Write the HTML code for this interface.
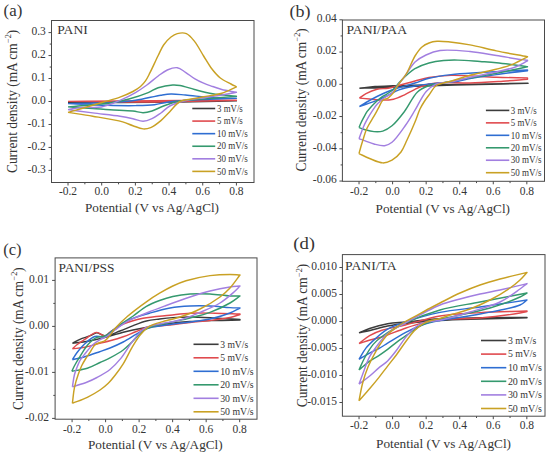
<!DOCTYPE html>
<html><head><meta charset="utf-8"><style>
html,body{margin:0;padding:0;background:#fff;overflow:hidden;width:550px;height:454px;}
svg{display:block;}
text{font-family:"Liberation Serif",serif;fill:#353535;}
</style></head><body>
<svg width="550" height="454" viewBox="0 0 550 454">
<rect width="550" height="454" fill="#fff"/>
<rect x="51.5" y="20.5" width="202.5" height="162.0" fill="none" stroke="#4a4a4a" stroke-width="1"/>
<line x1="68.02000000000001" y1="182.5" x2="68.02000000000001" y2="185.5" stroke="#4a4a4a" stroke-width="1"/>
<line x1="101.7" y1="182.5" x2="101.7" y2="185.5" stroke="#4a4a4a" stroke-width="1"/>
<line x1="135.38" y1="182.5" x2="135.38" y2="185.5" stroke="#4a4a4a" stroke-width="1"/>
<line x1="169.06" y1="182.5" x2="169.06" y2="185.5" stroke="#4a4a4a" stroke-width="1"/>
<line x1="202.74" y1="182.5" x2="202.74" y2="185.5" stroke="#4a4a4a" stroke-width="1"/>
<line x1="236.42000000000002" y1="182.5" x2="236.42000000000002" y2="185.5" stroke="#4a4a4a" stroke-width="1"/>
<line x1="84.86" y1="182.5" x2="84.86" y2="184.3" stroke="#4a4a4a" stroke-width="1"/>
<line x1="118.54" y1="182.5" x2="118.54" y2="184.3" stroke="#4a4a4a" stroke-width="1"/>
<line x1="152.22" y1="182.5" x2="152.22" y2="184.3" stroke="#4a4a4a" stroke-width="1"/>
<line x1="185.9" y1="182.5" x2="185.9" y2="184.3" stroke="#4a4a4a" stroke-width="1"/>
<line x1="219.57999999999998" y1="182.5" x2="219.57999999999998" y2="184.3" stroke="#4a4a4a" stroke-width="1"/>
<line x1="51.5" y1="32.59" x2="48.5" y2="32.59" stroke="#4a4a4a" stroke-width="1"/>
<line x1="51.5" y1="55.56" x2="48.5" y2="55.56" stroke="#4a4a4a" stroke-width="1"/>
<line x1="51.5" y1="78.53" x2="48.5" y2="78.53" stroke="#4a4a4a" stroke-width="1"/>
<line x1="51.5" y1="101.5" x2="48.5" y2="101.5" stroke="#4a4a4a" stroke-width="1"/>
<line x1="51.5" y1="124.47" x2="48.5" y2="124.47" stroke="#4a4a4a" stroke-width="1"/>
<line x1="51.5" y1="147.44" x2="48.5" y2="147.44" stroke="#4a4a4a" stroke-width="1"/>
<line x1="51.5" y1="170.41" x2="48.5" y2="170.41" stroke="#4a4a4a" stroke-width="1"/>
<line x1="51.5" y1="44.075" x2="49.7" y2="44.075" stroke="#4a4a4a" stroke-width="1"/>
<line x1="51.5" y1="67.045" x2="49.7" y2="67.045" stroke="#4a4a4a" stroke-width="1"/>
<line x1="51.5" y1="90.015" x2="49.7" y2="90.015" stroke="#4a4a4a" stroke-width="1"/>
<line x1="51.5" y1="112.985" x2="49.7" y2="112.985" stroke="#4a4a4a" stroke-width="1"/>
<line x1="51.5" y1="135.95499999999998" x2="49.7" y2="135.95499999999998" stroke="#4a4a4a" stroke-width="1"/>
<line x1="51.5" y1="158.925" x2="49.7" y2="158.925" stroke="#4a4a4a" stroke-width="1"/>
<text x="68.02000000000001" y="195.3" font-size="11.5" text-anchor="middle" >-0.2</text>
<text x="101.7" y="195.3" font-size="11.5" text-anchor="middle" >0.0</text>
<text x="135.38" y="195.3" font-size="11.5" text-anchor="middle" >0.2</text>
<text x="169.06" y="195.3" font-size="11.5" text-anchor="middle" >0.4</text>
<text x="202.74" y="195.3" font-size="11.5" text-anchor="middle" >0.6</text>
<text x="236.42000000000002" y="195.3" font-size="11.5" text-anchor="middle" >0.8</text>
<text x="45.8" y="34.99" font-size="11.5" text-anchor="end" >0.3</text>
<text x="45.8" y="57.96" font-size="11.5" text-anchor="end" >0.2</text>
<text x="45.8" y="80.93" font-size="11.5" text-anchor="end" >0.1</text>
<text x="45.8" y="103.9" font-size="11.5" text-anchor="end" >0.0</text>
<text x="45.8" y="126.87" font-size="11.5" text-anchor="end" >-0.1</text>
<text x="45.8" y="149.84" font-size="11.5" text-anchor="end" >-0.2</text>
<text x="45.8" y="172.81" font-size="11.5" text-anchor="end" >-0.3</text>
<text x="85" y="212" font-size="12.5" text-anchor="start" textLength="134" lengthAdjust="spacingAndGlyphs" >Potential (V vs Ag/AgCl)</text>
<g transform="translate(16.6,173) rotate(-90)"><text x="0" y="0" font-size="14" textLength="129.7" lengthAdjust="spacingAndGlyphs">Current density (mA cm</text><text x="130.0" y="-5.4" font-size="8.3">−2</text><text x="138.5" y="0" font-size="14">)</text></g>
<text x="3.6" y="16.3" font-size="17.5" text-anchor="start" textLength="18.7" lengthAdjust="spacingAndGlyphs" >(a)</text>
<text x="57.3" y="33.9" font-size="12.5" text-anchor="start" textLength="30.4" lengthAdjust="spacingAndGlyphs" >PANI</text>
<line x1="192.3" y1="108.5" x2="215.2" y2="108.5" stroke="#3c3c3c" stroke-width="1.6"/>
<text x="217" y="111.7" font-size="9.5" text-anchor="start" textLength="25.8" lengthAdjust="spacingAndGlyphs" >3 mV/s</text>
<line x1="192.3" y1="121.08" x2="215.2" y2="121.08" stroke="#e04a4e" stroke-width="1.6"/>
<text x="217" y="124.28" font-size="9.5" text-anchor="start" textLength="25.8" lengthAdjust="spacingAndGlyphs" >5 mV/s</text>
<line x1="192.3" y1="133.66" x2="215.2" y2="133.66" stroke="#2f6ed2" stroke-width="1.6"/>
<text x="217" y="136.85999999999999" font-size="9.5" text-anchor="start" textLength="30.8" lengthAdjust="spacingAndGlyphs" >10 mV/s</text>
<line x1="192.3" y1="146.24" x2="215.2" y2="146.24" stroke="#35996e" stroke-width="1.6"/>
<text x="217" y="149.44" font-size="9.5" text-anchor="start" textLength="30.8" lengthAdjust="spacingAndGlyphs" >20 mV/s</text>
<line x1="192.3" y1="158.82" x2="215.2" y2="158.82" stroke="#a27fe0" stroke-width="1.6"/>
<text x="217" y="162.01999999999998" font-size="9.5" text-anchor="start" textLength="30.8" lengthAdjust="spacingAndGlyphs" >30 mV/s</text>
<line x1="192.3" y1="171.4" x2="215.2" y2="171.4" stroke="#c9a124" stroke-width="1.6"/>
<text x="217" y="174.6" font-size="9.5" text-anchor="start" textLength="30.8" lengthAdjust="spacingAndGlyphs" >50 mV/s</text>
<path d="M68.00,102.20 C85.33,102.10 102.05,102.04 120.00,101.90 C139.28,101.75 160.31,101.47 180.00,101.30 C199.09,101.14 217.60,101.03 236.40,100.90 L236.40,100.90 C217.60,101.27 199.09,101.72 180.00,102.00 C160.31,102.29 139.28,102.58 120.00,102.60 C102.05,102.62 85.33,102.33 68.00,102.20" fill="none" stroke="#3c3c3c" stroke-width="1.45" stroke-linejoin="round"/>
<path d="M68.00,101.40 C85.33,101.27 102.05,101.14 120.00,101.00 C139.28,100.85 160.31,100.63 180.00,100.50 C199.09,100.37 217.60,100.30 236.40,100.20 L236.40,100.20 C217.60,100.67 199.09,101.30 180.00,101.60 C160.31,101.91 139.28,102.05 120.00,102.00 C102.05,101.96 85.33,101.60 68.00,101.40" fill="none" stroke="#e04a4e" stroke-width="1.45" stroke-linejoin="round"/>
<path d="M68.00,103.60 C75.33,103.47 82.84,103.37 90.00,103.20 C96.83,103.04 102.94,103.02 110.00,102.60 C117.99,102.12 127.04,101.53 135.50,100.30 C144.01,99.07 154.34,96.25 160.90,95.20 C165.01,94.54 167.33,94.09 171.00,94.00 C175.39,93.89 179.92,94.53 185.50,95.00 C193.16,95.64 203.94,97.17 212.70,97.70 C220.86,98.19 228.50,98.03 236.40,98.20 L236.40,98.20 C227.60,98.57 218.68,98.91 210.00,99.30 C201.55,99.68 192.61,99.95 185.00,100.50 C178.59,100.96 172.71,101.41 167.30,102.20 C162.67,102.87 159.21,104.13 154.50,104.70 C148.81,105.39 142.48,105.47 135.50,105.60 C126.94,105.76 117.16,105.58 106.90,105.30 C94.93,104.98 80.97,104.17 68.00,103.60" fill="none" stroke="#2f6ed2" stroke-width="1.45" stroke-linejoin="round"/>
<path d="M68.00,106.90 C74.43,106.37 80.61,105.92 87.30,105.30 C94.56,104.63 102.80,104.12 110.00,103.00 C116.64,101.97 122.70,100.71 129.00,99.00 C135.43,97.26 142.89,94.77 148.20,92.60 C152.14,90.99 154.46,88.94 158.20,87.70 C162.50,86.28 168.68,85.23 172.70,85.00 C175.53,84.84 177.18,85.02 180.00,85.50 C184.04,86.19 189.38,88.20 194.50,89.50 C200.21,90.95 206.20,92.60 212.70,93.70 C220.05,94.95 228.50,95.43 236.40,96.30 L236.40,96.30 C229.27,96.87 222.01,97.44 215.00,98.00 C208.22,98.54 201.19,99.06 195.00,99.60 C189.64,100.06 185.07,100.01 180.00,101.00 C174.58,102.06 168.46,104.18 163.50,106.00 C159.27,107.55 155.65,109.87 152.00,111.00 C148.90,111.96 146.17,112.66 143.10,112.70 C139.82,112.74 136.99,111.45 132.90,111.00 C126.80,110.33 117.10,110.25 110.00,109.80 C103.83,109.41 98.98,108.94 92.70,108.50 C85.20,107.98 76.23,107.43 68.00,106.90" fill="none" stroke="#35996e" stroke-width="1.45" stroke-linejoin="round"/>
<path d="M68.00,109.60 C72.60,108.87 76.78,107.85 81.80,107.40 C87.75,106.87 95.04,108.16 101.40,107.00 C107.78,105.83 114.16,102.90 120.00,100.40 C125.48,98.06 130.80,95.33 135.50,92.60 C139.67,90.17 143.17,87.72 146.90,85.00 C150.74,82.20 154.58,78.63 158.20,76.00 C161.34,73.72 164.06,71.39 167.30,70.00 C170.44,68.66 174.21,67.26 177.30,67.70 C180.26,68.12 182.75,70.57 185.50,72.30 C188.48,74.17 191.42,76.76 194.50,78.60 C197.46,80.37 200.53,81.87 203.60,83.20 C206.59,84.49 209.66,85.45 212.70,86.50 C215.73,87.55 218.38,88.61 221.80,89.50 C226.06,90.61 231.53,91.37 236.40,92.30 L236.40,92.30 C231.53,93.20 226.94,94.14 221.80,95.00 C216.08,95.95 209.80,96.73 203.60,97.70 C197.11,98.72 189.68,99.44 183.70,101.00 C178.59,102.33 173.77,103.80 169.80,106.00 C166.32,107.93 163.92,110.85 160.90,113.00 C157.98,115.07 155.07,117.30 152.00,118.70 C149.12,120.01 146.18,121.25 143.10,121.30 C139.82,121.36 136.51,119.51 132.90,118.70 C128.86,117.80 125.11,117.00 120.00,116.20 C112.60,115.04 101.57,114.03 92.70,112.90 C84.26,111.83 76.23,110.70 68.00,109.60" fill="none" stroke="#a27fe0" stroke-width="1.45" stroke-linejoin="round"/>
<path d="M68.00,112.40 C72.60,111.10 76.68,109.99 81.80,108.50 C88.25,106.63 96.85,104.01 103.60,102.00 C109.46,100.25 114.91,98.96 120.00,97.10 C124.61,95.42 129.24,93.48 132.90,91.50 C135.85,89.91 138.33,88.37 140.50,86.50 C142.47,84.80 143.99,83.04 145.50,80.90 C147.19,78.51 148.33,75.96 150.00,72.70 C152.38,68.04 155.72,60.51 158.20,55.50 C160.15,51.55 161.41,48.13 163.60,45.00 C165.71,41.99 168.46,38.97 171.00,37.00 C173.05,35.41 174.92,34.20 177.30,33.60 C179.98,32.92 183.65,32.49 186.40,33.60 C189.45,34.83 191.91,38.20 194.50,41.40 C197.70,45.35 200.72,51.41 203.60,56.00 C206.19,60.12 208.24,64.06 211.00,67.70 C213.72,71.29 216.61,74.96 220.00,77.70 C223.29,80.36 227.96,82.34 231.00,84.00 C233.10,85.15 234.60,85.87 236.40,86.80 L236.40,86.80 C231.53,88.93 227.03,91.56 221.80,93.20 C216.16,94.97 209.23,95.73 203.60,96.80 C198.74,97.73 194.18,98.46 190.00,99.30 C186.40,100.03 183.12,99.79 180.00,101.50 C176.30,103.53 173.08,108.42 169.80,111.70 C166.73,114.77 164.10,117.94 160.90,120.60 C157.73,123.24 153.99,126.26 150.70,127.60 C148.10,128.65 145.80,129.08 143.10,128.90 C139.93,128.69 136.28,126.86 132.90,125.70 C129.48,124.53 127.06,123.12 122.70,121.90 C115.40,119.86 102.23,117.84 92.70,116.20 C84.08,114.72 76.23,113.67 68.00,112.40" fill="none" stroke="#c9a124" stroke-width="1.45" stroke-linejoin="round"/>
<rect x="342.4" y="20.0" width="202.10000000000002" height="161.3" fill="none" stroke="#4a4a4a" stroke-width="1"/>
<line x1="359.04" y1="181.3" x2="359.04" y2="184.3" stroke="#4a4a4a" stroke-width="1"/>
<line x1="392.6" y1="181.3" x2="392.6" y2="184.3" stroke="#4a4a4a" stroke-width="1"/>
<line x1="426.16" y1="181.3" x2="426.16" y2="184.3" stroke="#4a4a4a" stroke-width="1"/>
<line x1="459.72" y1="181.3" x2="459.72" y2="184.3" stroke="#4a4a4a" stroke-width="1"/>
<line x1="493.28000000000003" y1="181.3" x2="493.28000000000003" y2="184.3" stroke="#4a4a4a" stroke-width="1"/>
<line x1="526.84" y1="181.3" x2="526.84" y2="184.3" stroke="#4a4a4a" stroke-width="1"/>
<line x1="375.82000000000005" y1="181.3" x2="375.82000000000005" y2="183.10000000000002" stroke="#4a4a4a" stroke-width="1"/>
<line x1="409.38" y1="181.3" x2="409.38" y2="183.10000000000002" stroke="#4a4a4a" stroke-width="1"/>
<line x1="442.94000000000005" y1="181.3" x2="442.94000000000005" y2="183.10000000000002" stroke="#4a4a4a" stroke-width="1"/>
<line x1="476.5" y1="181.3" x2="476.5" y2="183.10000000000002" stroke="#4a4a4a" stroke-width="1"/>
<line x1="510.06" y1="181.3" x2="510.06" y2="183.10000000000002" stroke="#4a4a4a" stroke-width="1"/>
<line x1="342.4" y1="19.799999999999997" x2="339.4" y2="19.799999999999997" stroke="#4a4a4a" stroke-width="1"/>
<line x1="342.4" y1="52.05" x2="339.4" y2="52.05" stroke="#4a4a4a" stroke-width="1"/>
<line x1="342.4" y1="84.3" x2="339.4" y2="84.3" stroke="#4a4a4a" stroke-width="1"/>
<line x1="342.4" y1="116.55" x2="339.4" y2="116.55" stroke="#4a4a4a" stroke-width="1"/>
<line x1="342.4" y1="148.8" x2="339.4" y2="148.8" stroke="#4a4a4a" stroke-width="1"/>
<line x1="342.4" y1="181.05" x2="339.4" y2="181.05" stroke="#4a4a4a" stroke-width="1"/>
<line x1="342.4" y1="35.925" x2="340.59999999999997" y2="35.925" stroke="#4a4a4a" stroke-width="1"/>
<line x1="342.4" y1="68.175" x2="340.59999999999997" y2="68.175" stroke="#4a4a4a" stroke-width="1"/>
<line x1="342.4" y1="100.425" x2="340.59999999999997" y2="100.425" stroke="#4a4a4a" stroke-width="1"/>
<line x1="342.4" y1="132.675" x2="340.59999999999997" y2="132.675" stroke="#4a4a4a" stroke-width="1"/>
<line x1="342.4" y1="164.925" x2="340.59999999999997" y2="164.925" stroke="#4a4a4a" stroke-width="1"/>
<text x="359.04" y="194.5" font-size="11.5" text-anchor="middle" >-0.2</text>
<text x="392.6" y="194.5" font-size="11.5" text-anchor="middle" >0.0</text>
<text x="426.16" y="194.5" font-size="11.5" text-anchor="middle" >0.2</text>
<text x="459.72" y="194.5" font-size="11.5" text-anchor="middle" >0.4</text>
<text x="493.28000000000003" y="194.5" font-size="11.5" text-anchor="middle" >0.6</text>
<text x="526.84" y="194.5" font-size="11.5" text-anchor="middle" >0.8</text>
<text x="336.8" y="22.199999999999996" font-size="11.5" text-anchor="end" >0.04</text>
<text x="336.8" y="54.449999999999996" font-size="11.5" text-anchor="end" >0.02</text>
<text x="336.8" y="86.7" font-size="11.5" text-anchor="end" >0.00</text>
<text x="336.8" y="118.95" font-size="11.5" text-anchor="end" >-0.02</text>
<text x="336.8" y="151.20000000000002" font-size="11.5" text-anchor="end" >-0.04</text>
<text x="336.8" y="183.45000000000002" font-size="11.5" text-anchor="end" >-0.06</text>
<text x="375.6" y="213" font-size="12.5" text-anchor="start" textLength="134.4" lengthAdjust="spacingAndGlyphs" >Potential (V vs Ag/AgCl)</text>
<g transform="translate(305.5,171.5) rotate(-90)"><text x="0" y="0" font-size="14" textLength="129.7" lengthAdjust="spacingAndGlyphs">Current density (mA cm</text><text x="130.0" y="-5.4" font-size="8.3">−2</text><text x="138.5" y="0" font-size="14">)</text></g>
<text x="289.5" y="17.2" font-size="17.5" text-anchor="start" textLength="21" lengthAdjust="spacingAndGlyphs" >(b)</text>
<text x="346.5" y="33.9" font-size="12.5" text-anchor="start" textLength="60.5" lengthAdjust="spacingAndGlyphs" >PANI/PAA</text>
<line x1="485.9" y1="110.4" x2="509.3" y2="110.4" stroke="#3c3c3c" stroke-width="1.6"/>
<text x="510.8" y="113.60000000000001" font-size="9.5" text-anchor="start" textLength="25.8" lengthAdjust="spacingAndGlyphs" >3 mV/s</text>
<line x1="485.9" y1="122.86000000000001" x2="509.3" y2="122.86000000000001" stroke="#e04a4e" stroke-width="1.6"/>
<text x="510.8" y="126.06000000000002" font-size="9.5" text-anchor="start" textLength="25.8" lengthAdjust="spacingAndGlyphs" >5 mV/s</text>
<line x1="485.9" y1="135.32" x2="509.3" y2="135.32" stroke="#2f6ed2" stroke-width="1.6"/>
<text x="510.8" y="138.51999999999998" font-size="9.5" text-anchor="start" textLength="30.8" lengthAdjust="spacingAndGlyphs" >10 mV/s</text>
<line x1="485.9" y1="147.78" x2="509.3" y2="147.78" stroke="#35996e" stroke-width="1.6"/>
<text x="510.8" y="150.98" font-size="9.5" text-anchor="start" textLength="30.8" lengthAdjust="spacingAndGlyphs" >20 mV/s</text>
<line x1="485.9" y1="160.24" x2="509.3" y2="160.24" stroke="#a27fe0" stroke-width="1.6"/>
<text x="510.8" y="163.44" font-size="9.5" text-anchor="start" textLength="30.8" lengthAdjust="spacingAndGlyphs" >30 mV/s</text>
<line x1="485.9" y1="172.70000000000002" x2="509.3" y2="172.70000000000002" stroke="#c9a124" stroke-width="1.6"/>
<text x="510.8" y="175.9" font-size="9.5" text-anchor="start" textLength="30.8" lengthAdjust="spacingAndGlyphs" >50 mV/s</text>
<path d="M359.40,88.20 C364.60,87.63 369.61,86.90 375.00,86.50 C380.78,86.07 386.70,85.99 393.00,85.80 C399.96,85.59 406.58,85.48 415.00,85.30 C426.36,85.06 439.68,84.79 455.00,84.50 C475.70,84.11 503.67,83.63 528.00,83.20 L528.00,83.40 C503.67,83.93 475.70,84.46 455.00,85.00 C439.68,85.40 426.35,85.77 415.00,86.20 C406.58,86.52 399.97,86.89 393.00,87.20 C386.70,87.48 380.79,87.83 375.00,88.00 C369.62,88.15 364.60,88.13 359.40,88.20" fill="none" stroke="#3c3c3c" stroke-width="1.45" stroke-linejoin="round"/>
<path d="M359.40,98.10 C361.60,96.63 363.44,95.05 366.00,93.70 C369.13,92.05 373.27,90.21 377.00,89.30 C380.61,88.42 384.36,88.83 388.00,88.20 C391.69,87.57 395.00,86.55 399.00,85.50 C403.84,84.22 409.83,82.37 415.00,81.00 C419.81,79.72 423.77,78.40 429.00,77.50 C435.47,76.39 442.34,75.63 451.00,75.40 C463.41,75.07 482.69,76.88 496.40,77.30 C507.74,77.65 517.13,77.70 527.50,77.90 L527.50,79.30 C519.33,79.93 511.78,80.62 503.00,81.20 C492.82,81.87 480.39,82.80 470.00,83.00 C460.71,83.18 451.10,82.30 443.60,82.60 C438.01,82.82 433.74,82.90 429.00,84.00 C424.21,85.12 419.27,87.37 415.00,89.30 C411.22,91.01 408.17,93.15 404.60,94.80 C401.00,96.46 397.26,98.32 393.50,99.20 C389.89,100.04 386.31,100.11 382.50,100.10 C378.37,100.09 373.65,99.35 369.60,99.00 C366.00,98.69 362.80,98.40 359.40,98.10" fill="none" stroke="#e04a4e" stroke-width="1.45" stroke-linejoin="round"/>
<path d="M359.40,106.50 C361.60,105.17 363.50,103.94 366.00,102.50 C369.18,100.67 373.30,98.35 377.00,96.50 C380.63,94.69 384.30,92.98 388.00,91.50 C391.63,90.05 394.97,88.99 399.00,87.70 C403.82,86.16 409.86,84.62 415.00,83.00 C419.84,81.48 423.75,79.61 429.00,78.30 C435.45,76.68 443.14,75.54 451.00,74.60 C459.98,73.52 469.14,73.18 480.00,72.50 C493.89,71.63 511.67,70.83 527.50,70.00 L527.50,70.70 C517.13,72.00 506.33,73.22 496.40,74.60 C487.23,75.87 477.07,77.30 470.00,78.60 C465.20,79.48 462.90,80.44 458.00,81.20 C450.46,82.38 436.92,83.05 429.00,84.00 C423.48,84.66 419.80,85.07 415.00,86.00 C409.82,87.00 403.75,88.16 399.00,89.90 C394.90,91.40 391.69,93.66 388.00,95.40 C384.35,97.12 380.70,98.82 377.00,100.30 C373.36,101.75 369.20,103.07 366.00,104.20 C363.52,105.07 361.60,105.73 359.40,106.50" fill="none" stroke="#2f6ed2" stroke-width="1.45" stroke-linejoin="round"/>
<path d="M359.00,127.60 C359.60,126.13 360.10,124.72 360.80,123.20 C361.58,121.50 362.52,119.73 363.50,117.90 C364.57,115.90 365.67,113.62 367.00,111.70 C368.31,109.82 369.83,108.21 371.40,106.50 C373.05,104.71 374.89,102.85 376.70,101.20 C378.43,99.62 380.43,97.85 382.00,96.80 C383.10,96.06 383.77,95.95 385.00,95.20 C387.14,93.89 391.10,91.50 393.50,89.30 C395.69,87.29 396.95,84.93 399.00,82.70 C401.32,80.18 404.15,77.37 406.80,75.00 C409.32,72.75 411.37,70.63 414.50,68.80 C418.44,66.50 424.08,64.39 429.00,63.00 C433.79,61.65 438.73,60.98 443.60,60.50 C448.40,60.02 452.70,60.01 458.00,60.10 C464.56,60.22 473.21,61.04 480.00,61.50 C485.87,61.90 490.29,62.10 496.40,62.70 C504.17,63.47 517.58,65.29 522.80,66.00 C525.01,66.30 525.93,66.47 527.50,66.70 L527.50,66.70 C523.67,67.57 520.35,68.37 516.00,69.30 C510.34,70.52 503.43,71.97 496.40,73.30 C488.26,74.84 478.80,76.35 470.00,77.90 C461.20,79.45 451.10,81.19 443.60,82.60 C438.01,83.65 433.46,83.85 429.00,85.50 C424.80,87.06 421.08,88.68 417.50,92.00 C412.75,96.40 409.07,105.45 404.60,111.30 C400.54,116.62 396.16,122.38 392.00,125.80 C388.91,128.35 385.95,130.16 382.80,131.10 C379.93,131.95 376.92,131.81 374.00,131.60 C371.05,131.39 367.85,130.54 365.20,129.80 C362.93,129.17 361.07,128.33 359.00,127.60" fill="none" stroke="#35996e" stroke-width="1.45" stroke-linejoin="round"/>
<path d="M359.00,138.70 C359.60,137.07 360.13,135.58 360.80,133.80 C361.60,131.67 362.48,129.12 363.50,126.80 C364.54,124.42 365.65,122.16 367.00,119.70 C368.53,116.89 370.48,113.64 372.30,110.90 C373.99,108.37 375.54,105.95 377.50,103.80 C379.45,101.66 381.62,99.81 384.00,98.00 C386.55,96.06 389.94,94.89 392.40,92.60 C394.98,90.20 396.84,86.64 399.00,83.80 C401.04,81.12 402.78,79.00 405.00,76.00 C407.94,72.03 411.20,65.60 415.00,62.00 C418.31,58.86 421.98,56.89 426.00,55.00 C430.27,53.00 434.37,51.29 440.00,50.50 C448.04,49.38 460.34,50.61 470.00,51.50 C479.11,52.34 487.83,54.15 496.40,55.50 C504.54,56.78 514.54,58.59 520.20,59.40 C523.33,59.85 525.07,60.00 527.50,60.30 L527.50,60.80 C523.67,62.77 520.45,64.98 516.00,66.70 C510.43,68.86 503.45,70.34 496.40,72.00 C488.28,73.91 478.06,75.52 470.00,77.30 C463.13,78.82 456.94,80.76 451.00,81.90 C445.84,82.89 440.65,82.28 436.40,84.00 C432.47,85.59 429.36,87.95 426.20,91.40 C422.04,95.95 418.59,104.33 415.00,110.20 C411.79,115.45 409.26,119.98 405.70,125.00 C401.71,130.63 396.24,138.84 392.00,142.20 C389.41,144.25 387.36,145.31 384.60,145.70 C381.44,146.15 377.33,144.85 374.00,144.00 C370.89,143.21 367.88,141.85 365.20,140.90 C362.95,140.11 361.07,139.43 359.00,138.70" fill="none" stroke="#a27fe0" stroke-width="1.45" stroke-linejoin="round"/>
<path d="M359.00,153.60 C359.60,151.40 360.12,149.35 360.80,147.00 C361.59,144.27 362.59,141.05 363.50,138.20 C364.36,135.49 365.15,132.64 366.10,130.30 C366.90,128.33 367.63,126.97 368.70,125.00 C370.11,122.39 372.34,118.99 374.00,116.10 C375.56,113.40 376.93,110.83 378.40,108.20 C379.87,105.57 380.93,101.98 382.80,100.30 C384.28,98.97 386.35,99.21 388.00,98.10 C389.94,96.79 391.78,94.76 393.50,92.60 C395.49,90.10 396.95,86.85 399.00,83.80 C401.32,80.35 404.34,77.13 406.80,73.00 C409.73,68.08 412.12,60.65 415.00,56.00 C417.24,52.39 419.43,49.23 422.00,47.00 C424.16,45.12 426.51,43.95 429.00,43.00 C431.51,42.04 433.99,41.53 437.00,41.30 C440.79,41.00 445.21,41.53 450.00,42.00 C455.96,42.59 462.90,43.58 470.00,44.90 C478.22,46.43 487.22,48.99 496.40,50.90 C506.32,52.97 517.13,54.83 527.50,56.80 L527.50,56.80 C521.53,59.67 515.83,63.09 509.60,65.40 C503.27,67.74 496.41,69.05 489.80,70.70 C483.21,72.35 476.50,73.54 470.00,75.30 C463.57,77.04 456.92,79.41 451.00,81.20 C445.82,82.77 440.16,82.94 436.40,85.50 C433.06,87.78 431.20,92.05 429.00,95.00 C427.14,97.49 425.52,99.63 424.00,102.00 C422.53,104.30 421.31,106.25 420.00,109.00 C418.28,112.61 416.93,117.34 415.00,122.00 C412.71,127.54 409.53,134.63 407.00,140.00 C404.91,144.43 403.59,148.58 401.00,152.00 C398.53,155.26 395.24,158.38 392.00,160.20 C389.12,161.82 386.13,162.96 382.80,162.90 C378.79,162.83 373.72,160.13 369.60,158.50 C365.83,157.01 362.53,155.23 359.00,153.60" fill="none" stroke="#c9a124" stroke-width="1.45" stroke-linejoin="round"/>
<rect x="55.1" y="257.9" width="201.9" height="161.3" fill="none" stroke="#4a4a4a" stroke-width="1"/>
<line x1="72.07999999999998" y1="419.2" x2="72.07999999999998" y2="422.2" stroke="#4a4a4a" stroke-width="1"/>
<line x1="105.6" y1="419.2" x2="105.6" y2="422.2" stroke="#4a4a4a" stroke-width="1"/>
<line x1="139.12" y1="419.2" x2="139.12" y2="422.2" stroke="#4a4a4a" stroke-width="1"/>
<line x1="172.64" y1="419.2" x2="172.64" y2="422.2" stroke="#4a4a4a" stroke-width="1"/>
<line x1="206.15999999999997" y1="419.2" x2="206.15999999999997" y2="422.2" stroke="#4a4a4a" stroke-width="1"/>
<line x1="239.68" y1="419.2" x2="239.68" y2="422.2" stroke="#4a4a4a" stroke-width="1"/>
<line x1="88.83999999999999" y1="419.2" x2="88.83999999999999" y2="421.0" stroke="#4a4a4a" stroke-width="1"/>
<line x1="122.36" y1="419.2" x2="122.36" y2="421.0" stroke="#4a4a4a" stroke-width="1"/>
<line x1="155.88" y1="419.2" x2="155.88" y2="421.0" stroke="#4a4a4a" stroke-width="1"/>
<line x1="189.39999999999998" y1="419.2" x2="189.39999999999998" y2="421.0" stroke="#4a4a4a" stroke-width="1"/>
<line x1="222.92" y1="419.2" x2="222.92" y2="421.0" stroke="#4a4a4a" stroke-width="1"/>
<line x1="55.1" y1="280.4" x2="52.1" y2="280.4" stroke="#4a4a4a" stroke-width="1"/>
<line x1="55.1" y1="326.4" x2="52.1" y2="326.4" stroke="#4a4a4a" stroke-width="1"/>
<line x1="55.1" y1="372.4" x2="52.1" y2="372.4" stroke="#4a4a4a" stroke-width="1"/>
<line x1="55.1" y1="418.4" x2="52.1" y2="418.4" stroke="#4a4a4a" stroke-width="1"/>
<line x1="55.1" y1="303.4" x2="53.300000000000004" y2="303.4" stroke="#4a4a4a" stroke-width="1"/>
<line x1="55.1" y1="349.4" x2="53.300000000000004" y2="349.4" stroke="#4a4a4a" stroke-width="1"/>
<line x1="55.1" y1="395.4" x2="53.300000000000004" y2="395.4" stroke="#4a4a4a" stroke-width="1"/>
<text x="72.07999999999998" y="432.8" font-size="11.5" text-anchor="middle" >-0.2</text>
<text x="105.6" y="432.8" font-size="11.5" text-anchor="middle" >0.0</text>
<text x="139.12" y="432.8" font-size="11.5" text-anchor="middle" >0.2</text>
<text x="172.64" y="432.8" font-size="11.5" text-anchor="middle" >0.4</text>
<text x="206.15999999999997" y="432.8" font-size="11.5" text-anchor="middle" >0.6</text>
<text x="239.68" y="432.8" font-size="11.5" text-anchor="middle" >0.8</text>
<text x="49" y="282.79999999999995" font-size="11.5" text-anchor="end" >0.01</text>
<text x="49" y="328.79999999999995" font-size="11.5" text-anchor="end" >0.00</text>
<text x="49" y="374.79999999999995" font-size="11.5" text-anchor="end" >-0.01</text>
<text x="49" y="420.79999999999995" font-size="11.5" text-anchor="end" >-0.02</text>
<text x="88" y="449" font-size="12.5" text-anchor="start" textLength="134.7" lengthAdjust="spacingAndGlyphs" >Potential (V vs Ag/AgCl)</text>
<g transform="translate(22.6,410) rotate(-90)"><text x="0" y="0" font-size="14" textLength="129.2" lengthAdjust="spacingAndGlyphs">Current density (mA cm</text><text x="129.5" y="-5.4" font-size="8.3">−2</text><text x="138.0" y="0" font-size="14">)</text></g>
<text x="3.2" y="255.3" font-size="17.5" text-anchor="start" textLength="18.4" lengthAdjust="spacingAndGlyphs" >(c)</text>
<text x="58.5" y="272" font-size="12.5" text-anchor="start" textLength="56" lengthAdjust="spacingAndGlyphs" >PANI/PSS</text>
<line x1="193.5" y1="344.3" x2="218.6" y2="344.3" stroke="#3c3c3c" stroke-width="1.6"/>
<text x="220.2" y="347.5" font-size="10" text-anchor="start" textLength="28" lengthAdjust="spacingAndGlyphs" >3 mV/s</text>
<line x1="193.5" y1="357.8" x2="218.6" y2="357.8" stroke="#e04a4e" stroke-width="1.6"/>
<text x="220.2" y="361.0" font-size="10" text-anchor="start" textLength="28" lengthAdjust="spacingAndGlyphs" >5 mV/s</text>
<line x1="193.5" y1="371.3" x2="218.6" y2="371.3" stroke="#2f6ed2" stroke-width="1.6"/>
<text x="220.2" y="374.5" font-size="10" text-anchor="start" textLength="33.5" lengthAdjust="spacingAndGlyphs" >10 mV/s</text>
<line x1="193.5" y1="384.8" x2="218.6" y2="384.8" stroke="#35996e" stroke-width="1.6"/>
<text x="220.2" y="388.0" font-size="10" text-anchor="start" textLength="33.5" lengthAdjust="spacingAndGlyphs" >20 mV/s</text>
<line x1="193.5" y1="398.3" x2="218.6" y2="398.3" stroke="#a27fe0" stroke-width="1.6"/>
<text x="220.2" y="401.5" font-size="10" text-anchor="start" textLength="33.5" lengthAdjust="spacingAndGlyphs" >30 mV/s</text>
<line x1="193.5" y1="411.8" x2="218.6" y2="411.8" stroke="#c9a124" stroke-width="1.6"/>
<text x="220.2" y="415.0" font-size="10" text-anchor="start" textLength="33.5" lengthAdjust="spacingAndGlyphs" >50 mV/s</text>
<path d="M72.40,343.30 C74.90,341.97 77.18,340.49 79.90,339.30 C82.92,337.98 86.82,337.06 89.80,335.90 C92.33,334.92 94.30,332.97 96.70,332.90 C99.25,332.82 101.59,335.73 104.70,335.80 C108.97,335.89 115.12,332.76 120.00,331.00 C124.60,329.34 128.78,327.27 133.20,325.60 C137.58,323.94 141.95,322.10 146.40,321.00 C150.75,319.92 155.19,319.57 159.60,319.00 C163.99,318.43 168.10,317.93 172.80,317.60 C178.15,317.22 183.73,316.98 190.00,317.00 C197.56,317.02 206.67,317.58 215.00,318.00 C223.34,318.42 231.67,319.00 240.00,319.50 L240.00,320.00 C231.67,320.17 223.33,320.25 215.00,320.50 C206.67,320.75 197.86,320.95 190.00,321.50 C182.95,321.99 176.88,322.59 170.00,323.50 C162.59,324.48 154.72,325.87 147.00,327.30 C139.12,328.76 129.94,330.51 123.20,332.20 C118.13,333.47 114.48,334.90 110.00,336.10 C105.42,337.33 100.41,338.51 96.00,339.50 C92.07,340.38 88.64,341.17 84.80,341.80 C80.78,342.45 76.53,342.80 72.40,343.30" fill="none" stroke="#3c3c3c" stroke-width="1.45" stroke-linejoin="round"/>
<path d="M72.40,348.80 C73.90,347.47 75.14,346.18 76.90,344.80 C79.12,343.05 81.85,341.17 84.80,339.30 C88.32,337.06 93.08,332.60 96.70,332.40 C99.59,332.24 102.37,336.16 104.70,335.90 C106.72,335.67 107.79,333.46 110.00,332.00 C113.37,329.77 118.21,326.38 123.20,324.20 C129.00,321.67 135.82,319.77 143.00,318.30 C151.24,316.61 161.67,316.09 170.00,315.20 C177.16,314.43 182.95,313.55 190.00,313.20 C197.86,312.81 206.67,313.07 215.00,313.20 C223.33,313.33 231.67,313.73 240.00,314.00 L240.00,314.50 C236.67,315.50 233.94,316.62 230.00,317.50 C224.51,318.73 216.68,319.67 210.00,320.50 C203.34,321.33 196.66,321.75 190.00,322.50 C183.33,323.25 176.90,324.19 170.00,325.00 C162.60,325.86 153.13,326.04 147.00,327.50 C142.71,328.52 140.12,330.05 136.40,331.50 C132.23,333.12 127.63,335.24 123.20,336.80 C118.83,338.33 114.14,339.67 110.00,340.80 C106.37,341.79 103.44,342.34 99.70,343.30 C95.18,344.45 89.57,346.38 84.80,347.30 C80.51,348.13 76.53,348.30 72.40,348.80" fill="none" stroke="#e04a4e" stroke-width="1.45" stroke-linejoin="round"/>
<path d="M72.40,359.70 C73.90,357.37 75.08,355.10 76.90,352.70 C79.08,349.83 81.85,346.48 84.80,343.80 C87.81,341.07 91.28,337.65 94.80,336.50 C97.95,335.47 101.54,337.58 104.70,336.50 C108.32,335.26 111.16,331.13 115.00,328.50 C119.45,325.45 124.48,322.01 130.00,319.50 C136.05,316.75 143.30,314.92 150.00,313.00 C156.63,311.10 163.29,309.17 170.00,308.00 C176.62,306.85 183.33,306.33 190.00,306.00 C196.66,305.67 203.34,305.73 210.00,306.00 C216.67,306.27 224.47,307.27 230.00,307.60 C233.90,307.83 236.67,307.87 240.00,308.00 L240.00,308.00 C236.67,309.67 233.99,311.42 230.00,313.00 C224.55,315.16 216.72,317.50 210.00,319.00 C203.39,320.48 196.67,321.08 190.00,322.00 C183.34,322.92 176.98,323.43 170.00,324.50 C162.28,325.68 151.75,326.70 145.70,328.90 C141.71,330.35 139.76,332.25 136.40,334.20 C132.38,336.54 127.66,339.68 123.20,342.00 C118.86,344.26 114.16,346.31 110.00,348.00 C106.39,349.47 103.46,350.40 99.70,351.70 C95.20,353.26 89.57,355.33 84.80,356.70 C80.50,357.94 76.53,358.70 72.40,359.70" fill="none" stroke="#2f6ed2" stroke-width="1.45" stroke-linejoin="round"/>
<path d="M71.80,371.30 C72.83,369.20 73.69,367.22 74.90,365.00 C76.32,362.40 78.01,359.69 79.90,356.70 C82.20,353.07 84.82,348.12 87.80,344.80 C90.48,341.81 93.62,338.83 96.70,337.40 C99.28,336.20 101.77,337.24 104.70,336.00 C109.18,334.10 115.06,328.36 120.00,324.90 C124.53,321.73 128.83,319.06 133.20,316.00 C137.63,312.90 141.86,309.03 146.40,306.40 C150.67,303.93 155.15,302.16 159.60,300.50 C163.95,298.88 168.07,297.55 172.80,296.50 C178.11,295.32 184.03,294.43 190.00,294.00 C196.40,293.54 203.34,293.67 210.00,294.00 C216.67,294.33 224.47,295.72 230.00,296.00 C233.90,296.19 236.67,296.00 240.00,296.00 L240.00,296.00 C236.67,298.33 234.02,300.67 230.00,303.00 C224.58,306.14 216.77,309.88 210.00,312.40 C203.43,314.84 196.69,316.31 190.00,318.00 C183.35,319.68 176.69,320.93 170.00,322.50 C163.23,324.09 154.46,325.68 149.60,327.50 C146.71,328.58 145.31,329.21 143.00,330.90 C139.73,333.29 135.93,338.11 132.50,341.40 C129.34,344.44 126.72,347.36 123.20,350.00 C119.32,352.91 114.15,355.71 110.00,357.90 C106.49,359.75 103.54,360.89 100.00,362.50 C96.02,364.31 91.83,366.75 87.30,368.20 C82.47,369.74 76.97,370.27 71.80,371.30" fill="none" stroke="#35996e" stroke-width="1.45" stroke-linejoin="round"/>
<path d="M72.40,386.90 C73.10,382.77 73.54,378.21 74.50,374.50 C75.31,371.36 76.49,368.51 77.50,366.00 C78.33,363.95 78.91,362.35 80.00,360.50 C81.26,358.36 82.94,356.31 84.80,354.00 C87.08,351.16 90.09,347.28 92.80,344.80 C95.07,342.72 97.32,341.20 99.70,339.80 C101.96,338.46 104.35,337.95 106.70,336.50 C109.44,334.81 111.93,332.27 115.00,330.00 C118.67,327.29 122.53,324.07 127.30,321.40 C133.11,318.15 141.10,315.20 147.70,312.50 C153.81,310.00 159.08,308.07 165.50,305.70 C173.00,302.94 182.22,299.55 190.00,297.00 C196.97,294.72 203.29,292.67 210.00,291.00 C216.63,289.35 224.46,287.83 230.00,287.00 C233.89,286.42 236.67,286.33 240.00,286.00 L240.00,286.00 C238.00,288.00 236.50,289.78 234.00,292.00 C230.38,295.21 225.29,299.74 220.00,303.00 C214.11,306.63 206.72,309.55 200.00,312.40 C193.39,315.21 186.57,318.13 180.00,320.00 C173.92,321.73 167.44,322.38 162.00,323.50 C157.48,324.43 153.03,324.99 149.60,326.20 C146.99,327.12 145.28,327.75 143.00,329.50 C139.66,332.07 135.98,336.95 132.50,341.40 C128.51,346.50 124.66,353.66 120.60,358.60 C117.14,362.81 113.93,366.35 110.00,369.50 C106.06,372.65 101.08,375.31 97.00,377.50 C93.59,379.33 90.93,380.57 87.30,382.00 C82.91,383.73 77.37,385.27 72.40,386.90" fill="none" stroke="#a27fe0" stroke-width="1.45" stroke-linejoin="round"/>
<path d="M72.40,403.30 C73.10,397.97 73.46,392.30 74.50,387.30 C75.45,382.76 76.87,378.36 78.20,374.50 C79.33,371.21 80.49,368.22 81.80,365.50 C82.95,363.11 84.17,361.12 85.50,359.00 C86.84,356.86 88.33,354.91 89.80,352.70 C91.42,350.27 92.84,346.72 94.80,345.00 C96.35,343.64 98.29,343.22 100.00,342.50 C101.59,341.83 103.22,341.74 104.70,340.80 C106.45,339.69 108.00,337.77 109.60,335.90 C111.44,333.75 112.70,331.16 115.00,328.50 C118.16,324.86 122.62,320.56 127.30,316.50 C132.85,311.69 140.54,305.95 146.40,301.80 C151.13,298.44 155.15,295.86 159.60,293.20 C163.95,290.60 168.34,288.10 172.80,286.00 C177.14,283.95 180.87,282.26 186.00,280.70 C192.74,278.65 202.33,276.64 210.00,275.60 C216.93,274.66 224.48,274.40 230.00,274.40 C233.91,274.40 236.67,274.80 240.00,275.00 L240.00,275.00 C236.67,279.33 233.52,284.20 230.00,288.00 C226.82,291.44 224.08,293.98 220.00,297.00 C214.63,300.97 206.80,305.62 200.00,309.00 C193.46,312.24 185.57,315.11 180.00,317.00 C176.14,318.31 173.07,318.99 170.00,319.80 C167.41,320.49 165.54,320.78 162.80,321.60 C159.04,322.72 153.40,323.90 149.60,326.20 C145.99,328.38 143.18,331.52 140.40,334.80 C137.44,338.30 135.14,342.30 132.50,346.70 C129.41,351.84 126.33,358.88 123.20,363.90 C120.59,368.09 117.96,371.60 115.30,375.00 C112.89,378.08 110.61,380.96 108.00,383.50 C105.50,385.94 103.07,387.89 100.00,390.00 C96.34,392.51 91.78,395.12 87.30,397.30 C82.61,399.58 77.37,401.30 72.40,403.30" fill="none" stroke="#c9a124" stroke-width="1.45" stroke-linejoin="round"/>
<rect x="342.4" y="254.6" width="202.60000000000002" height="161.6" fill="none" stroke="#4a4a4a" stroke-width="1"/>
<line x1="359.04" y1="416.2" x2="359.04" y2="419.2" stroke="#4a4a4a" stroke-width="1"/>
<line x1="392.6" y1="416.2" x2="392.6" y2="419.2" stroke="#4a4a4a" stroke-width="1"/>
<line x1="426.16" y1="416.2" x2="426.16" y2="419.2" stroke="#4a4a4a" stroke-width="1"/>
<line x1="459.72" y1="416.2" x2="459.72" y2="419.2" stroke="#4a4a4a" stroke-width="1"/>
<line x1="493.28000000000003" y1="416.2" x2="493.28000000000003" y2="419.2" stroke="#4a4a4a" stroke-width="1"/>
<line x1="526.84" y1="416.2" x2="526.84" y2="419.2" stroke="#4a4a4a" stroke-width="1"/>
<line x1="375.82000000000005" y1="416.2" x2="375.82000000000005" y2="418.0" stroke="#4a4a4a" stroke-width="1"/>
<line x1="409.38" y1="416.2" x2="409.38" y2="418.0" stroke="#4a4a4a" stroke-width="1"/>
<line x1="442.94000000000005" y1="416.2" x2="442.94000000000005" y2="418.0" stroke="#4a4a4a" stroke-width="1"/>
<line x1="476.5" y1="416.2" x2="476.5" y2="418.0" stroke="#4a4a4a" stroke-width="1"/>
<line x1="510.06" y1="416.2" x2="510.06" y2="418.0" stroke="#4a4a4a" stroke-width="1"/>
<line x1="342.4" y1="267.5" x2="339.4" y2="267.5" stroke="#4a4a4a" stroke-width="1"/>
<line x1="342.4" y1="294.5" x2="339.4" y2="294.5" stroke="#4a4a4a" stroke-width="1"/>
<line x1="342.4" y1="321.5" x2="339.4" y2="321.5" stroke="#4a4a4a" stroke-width="1"/>
<line x1="342.4" y1="348.5" x2="339.4" y2="348.5" stroke="#4a4a4a" stroke-width="1"/>
<line x1="342.4" y1="375.5" x2="339.4" y2="375.5" stroke="#4a4a4a" stroke-width="1"/>
<line x1="342.4" y1="402.5" x2="339.4" y2="402.5" stroke="#4a4a4a" stroke-width="1"/>
<line x1="342.4" y1="281.0" x2="340.59999999999997" y2="281.0" stroke="#4a4a4a" stroke-width="1"/>
<line x1="342.4" y1="308.0" x2="340.59999999999997" y2="308.0" stroke="#4a4a4a" stroke-width="1"/>
<line x1="342.4" y1="335.0" x2="340.59999999999997" y2="335.0" stroke="#4a4a4a" stroke-width="1"/>
<line x1="342.4" y1="362.0" x2="340.59999999999997" y2="362.0" stroke="#4a4a4a" stroke-width="1"/>
<line x1="342.4" y1="389.0" x2="340.59999999999997" y2="389.0" stroke="#4a4a4a" stroke-width="1"/>
<text x="359.04" y="429.2" font-size="11.5" text-anchor="middle" >-0.2</text>
<text x="392.6" y="429.2" font-size="11.5" text-anchor="middle" >0.0</text>
<text x="426.16" y="429.2" font-size="11.5" text-anchor="middle" >0.2</text>
<text x="459.72" y="429.2" font-size="11.5" text-anchor="middle" >0.4</text>
<text x="493.28000000000003" y="429.2" font-size="11.5" text-anchor="middle" >0.6</text>
<text x="526.84" y="429.2" font-size="11.5" text-anchor="middle" >0.8</text>
<text x="337" y="269.9" font-size="11.5" text-anchor="end" >0.010</text>
<text x="337" y="296.9" font-size="11.5" text-anchor="end" >0.005</text>
<text x="337" y="323.9" font-size="11.5" text-anchor="end" >0.000</text>
<text x="337" y="350.9" font-size="11.5" text-anchor="end" >-0.005</text>
<text x="337" y="377.9" font-size="11.5" text-anchor="end" >-0.010</text>
<text x="337" y="404.9" font-size="11.5" text-anchor="end" >-0.015</text>
<text x="376" y="448" font-size="12.5" text-anchor="start" textLength="135" lengthAdjust="spacingAndGlyphs" >Potential (V vs Ag/AgCl)</text>
<g transform="translate(307.3,407.3) rotate(-90)"><text x="0" y="0" font-size="14" textLength="130.0" lengthAdjust="spacingAndGlyphs">Current density (mA cm</text><text x="130.3" y="-5.4" font-size="8.3">−2</text><text x="138.8" y="0" font-size="14">)</text></g>
<text x="293.2" y="249.2" font-size="17.5" text-anchor="start" textLength="21.8" lengthAdjust="spacingAndGlyphs" >(d)</text>
<text x="345.1" y="270.4" font-size="12.5" text-anchor="start" textLength="51.6" lengthAdjust="spacingAndGlyphs" >PANI/TA</text>
<line x1="481" y1="340.5" x2="506.3" y2="340.5" stroke="#3c3c3c" stroke-width="1.6"/>
<text x="507.9" y="343.7" font-size="10" text-anchor="start" textLength="28.5" lengthAdjust="spacingAndGlyphs" >3 mV/s</text>
<line x1="481" y1="354.1" x2="506.3" y2="354.1" stroke="#e04a4e" stroke-width="1.6"/>
<text x="507.9" y="357.3" font-size="10" text-anchor="start" textLength="28.5" lengthAdjust="spacingAndGlyphs" >5 mV/s</text>
<line x1="481" y1="367.7" x2="506.3" y2="367.7" stroke="#2f6ed2" stroke-width="1.6"/>
<text x="507.9" y="370.9" font-size="10" text-anchor="start" textLength="34" lengthAdjust="spacingAndGlyphs" >10 mV/s</text>
<line x1="481" y1="381.3" x2="506.3" y2="381.3" stroke="#35996e" stroke-width="1.6"/>
<text x="507.9" y="384.5" font-size="10" text-anchor="start" textLength="34" lengthAdjust="spacingAndGlyphs" >20 mV/s</text>
<line x1="481" y1="394.9" x2="506.3" y2="394.9" stroke="#a27fe0" stroke-width="1.6"/>
<text x="507.9" y="398.09999999999997" font-size="10" text-anchor="start" textLength="34" lengthAdjust="spacingAndGlyphs" >30 mV/s</text>
<line x1="481" y1="408.5" x2="506.3" y2="408.5" stroke="#c9a124" stroke-width="1.6"/>
<text x="507.9" y="411.7" font-size="10" text-anchor="start" textLength="34" lengthAdjust="spacingAndGlyphs" >50 mV/s</text>
<path d="M359.00,332.90 C362.53,331.43 365.55,329.86 369.60,328.50 C374.76,326.76 381.58,324.88 387.60,323.80 C393.48,322.74 398.41,322.67 405.30,322.00 C414.94,321.07 428.01,319.50 440.00,318.80 C452.85,318.05 466.13,318.03 480.00,317.80 C495.03,317.55 511.33,317.53 527.00,317.40 L527.00,317.80 C511.33,318.20 495.03,318.53 480.00,319.00 C466.13,319.44 452.85,319.70 440.00,320.50 C428.01,321.24 414.93,322.40 405.30,323.50 C398.40,324.28 393.46,324.84 387.60,326.00 C381.69,327.17 375.19,329.27 370.00,330.50 C365.91,331.47 362.67,332.10 359.00,332.90" fill="none" stroke="#3c3c3c" stroke-width="1.45" stroke-linejoin="round"/>
<path d="M359.00,343.50 C362.53,340.87 365.79,337.79 369.60,335.60 C373.45,333.38 377.14,331.88 382.00,330.30 C388.47,328.20 396.78,327.07 405.30,325.00 C415.74,322.46 427.93,318.06 440.00,316.00 C452.77,313.82 466.12,313.43 480.00,312.60 C495.02,311.71 511.33,311.53 527.00,311.00 L527.00,311.50 C524.67,312.00 523.31,312.44 520.00,313.00 C512.15,314.33 493.36,316.90 480.00,318.00 C466.69,319.10 450.51,318.38 440.00,319.60 C433.07,320.40 428.61,321.49 422.90,322.90 C417.04,324.34 411.54,326.09 405.30,328.20 C398.04,330.66 388.54,334.95 382.00,337.00 C377.39,338.44 373.90,338.89 370.00,340.00 C366.24,341.07 362.67,342.33 359.00,343.50" fill="none" stroke="#e04a4e" stroke-width="1.45" stroke-linejoin="round"/>
<path d="M359.00,359.40 C361.37,355.57 363.38,351.34 366.10,347.90 C368.71,344.60 371.60,342.03 374.90,339.10 C378.66,335.76 382.79,331.88 387.60,329.10 C392.82,326.08 398.34,324.35 405.30,322.00 C414.86,318.77 427.93,314.87 440.00,312.40 C452.77,309.78 466.14,308.97 480.00,307.00 C495.04,304.86 511.33,302.33 527.00,300.00 L527.00,300.00 C524.67,301.67 523.52,303.43 520.00,305.00 C512.32,308.44 493.37,311.41 480.00,314.00 C466.71,316.57 450.51,318.36 440.00,320.50 C433.07,321.91 428.55,322.75 422.90,324.70 C416.98,326.74 411.09,329.58 405.30,332.60 C399.32,335.72 392.48,340.27 387.60,343.20 C384.16,345.27 381.77,346.87 378.80,348.50 C375.90,350.10 373.07,351.23 370.00,352.90 C366.51,354.80 362.67,357.23 359.00,359.40" fill="none" stroke="#2f6ed2" stroke-width="1.45" stroke-linejoin="round"/>
<path d="M359.00,370.00 C360.77,366.17 362.15,362.46 364.30,358.50 C366.76,353.96 369.95,348.25 373.20,344.40 C375.93,341.16 378.18,339.27 382.00,336.50 C387.76,332.32 396.57,327.13 405.30,323.00 C415.54,318.16 427.88,313.46 440.00,310.00 C452.72,306.37 466.12,304.72 480.00,302.00 C495.03,299.06 511.33,296.00 527.00,293.00 L527.00,293.00 C524.67,294.33 523.23,295.50 520.00,297.00 C513.56,299.99 501.39,304.62 490.00,308.00 C475.57,312.29 452.26,316.23 440.00,319.50 C432.76,321.43 427.56,322.63 422.90,324.70 C419.37,326.27 417.00,328.11 414.10,330.00 C411.13,331.94 408.24,334.15 405.30,336.20 C402.37,338.25 399.41,340.14 396.50,342.30 C393.50,344.53 390.59,347.16 387.60,349.40 C384.69,351.58 381.77,353.66 378.80,355.60 C375.90,357.49 373.01,358.76 370.00,360.90 C366.45,363.42 362.67,366.97 359.00,370.00" fill="none" stroke="#35996e" stroke-width="1.45" stroke-linejoin="round"/>
<path d="M359.00,384.10 C360.20,380.87 361.18,378.11 362.60,374.40 C364.53,369.37 366.95,361.71 369.60,356.70 C371.76,352.61 373.96,349.79 376.70,346.20 C379.84,342.08 383.17,337.22 387.60,333.50 C392.52,329.37 398.35,326.86 405.30,323.00 C414.88,317.68 429.85,309.11 440.00,305.00 C447.42,301.99 453.31,300.84 460.00,299.00 C466.65,297.17 473.32,295.50 480.00,294.00 C486.65,292.50 492.85,291.56 500.00,290.00 C508.34,288.18 518.00,285.73 527.00,283.60 L527.00,283.60 C524.67,285.40 522.99,286.88 520.00,289.00 C515.09,292.48 507.60,298.34 500.00,302.00 C491.24,306.22 480.04,308.94 470.00,312.00 C460.04,315.04 448.65,318.45 440.00,320.30 C433.55,321.68 427.53,321.23 422.90,322.90 C419.33,324.19 416.88,325.92 414.10,328.20 C410.97,330.78 408.13,334.38 405.30,337.90 C402.25,341.70 399.52,346.39 396.50,350.30 C393.62,354.03 390.72,357.86 387.60,360.90 C384.79,363.64 381.70,365.45 378.80,367.90 C375.83,370.41 373.16,373.20 370.00,375.80 C366.59,378.61 362.67,381.33 359.00,384.10" fill="none" stroke="#a27fe0" stroke-width="1.45" stroke-linejoin="round"/>
<path d="M359.00,400.80 C360.20,394.93 361.08,388.87 362.60,383.20 C364.07,377.72 365.81,372.37 367.90,367.30 C369.93,362.39 372.83,357.09 374.90,353.20 C376.40,350.38 377.29,348.63 379.00,346.00 C381.26,342.53 384.48,337.63 387.60,334.40 C390.37,331.53 393.49,329.48 396.50,327.30 C399.39,325.20 402.33,323.27 405.30,321.50 C408.19,319.78 410.77,318.59 414.10,316.80 C418.50,314.43 424.76,310.96 429.40,308.50 C433.25,306.46 435.90,305.09 440.00,303.00 C445.61,300.14 453.27,296.02 460.00,293.00 C466.61,290.03 473.28,287.35 480.00,285.00 C486.62,282.69 492.81,280.96 500.00,279.00 C508.30,276.74 518.00,274.60 527.00,272.40 L527.00,272.40 C524.67,274.93 522.65,277.53 520.00,280.00 C517.05,282.75 514.02,285.21 510.00,288.00 C504.58,291.77 496.77,296.46 490.00,300.00 C483.43,303.43 476.75,306.48 470.00,309.00 C463.41,311.46 455.51,313.21 450.00,315.00 C446.08,316.27 443.21,317.60 440.00,318.50 C437.13,319.31 434.47,319.45 431.70,320.30 C428.77,321.19 425.71,322.16 422.90,323.80 C419.82,325.60 416.88,328.06 414.10,330.90 C410.97,334.10 408.19,338.39 405.30,342.30 C402.33,346.32 399.49,350.69 396.50,354.70 C393.59,358.61 390.55,362.28 387.60,366.10 C384.65,369.92 381.77,373.87 378.80,377.60 C375.90,381.23 373.12,384.53 370.00,388.20 C366.56,392.24 362.67,396.60 359.00,400.80" fill="none" stroke="#c9a124" stroke-width="1.45" stroke-linejoin="round"/>
</svg></body></html>
